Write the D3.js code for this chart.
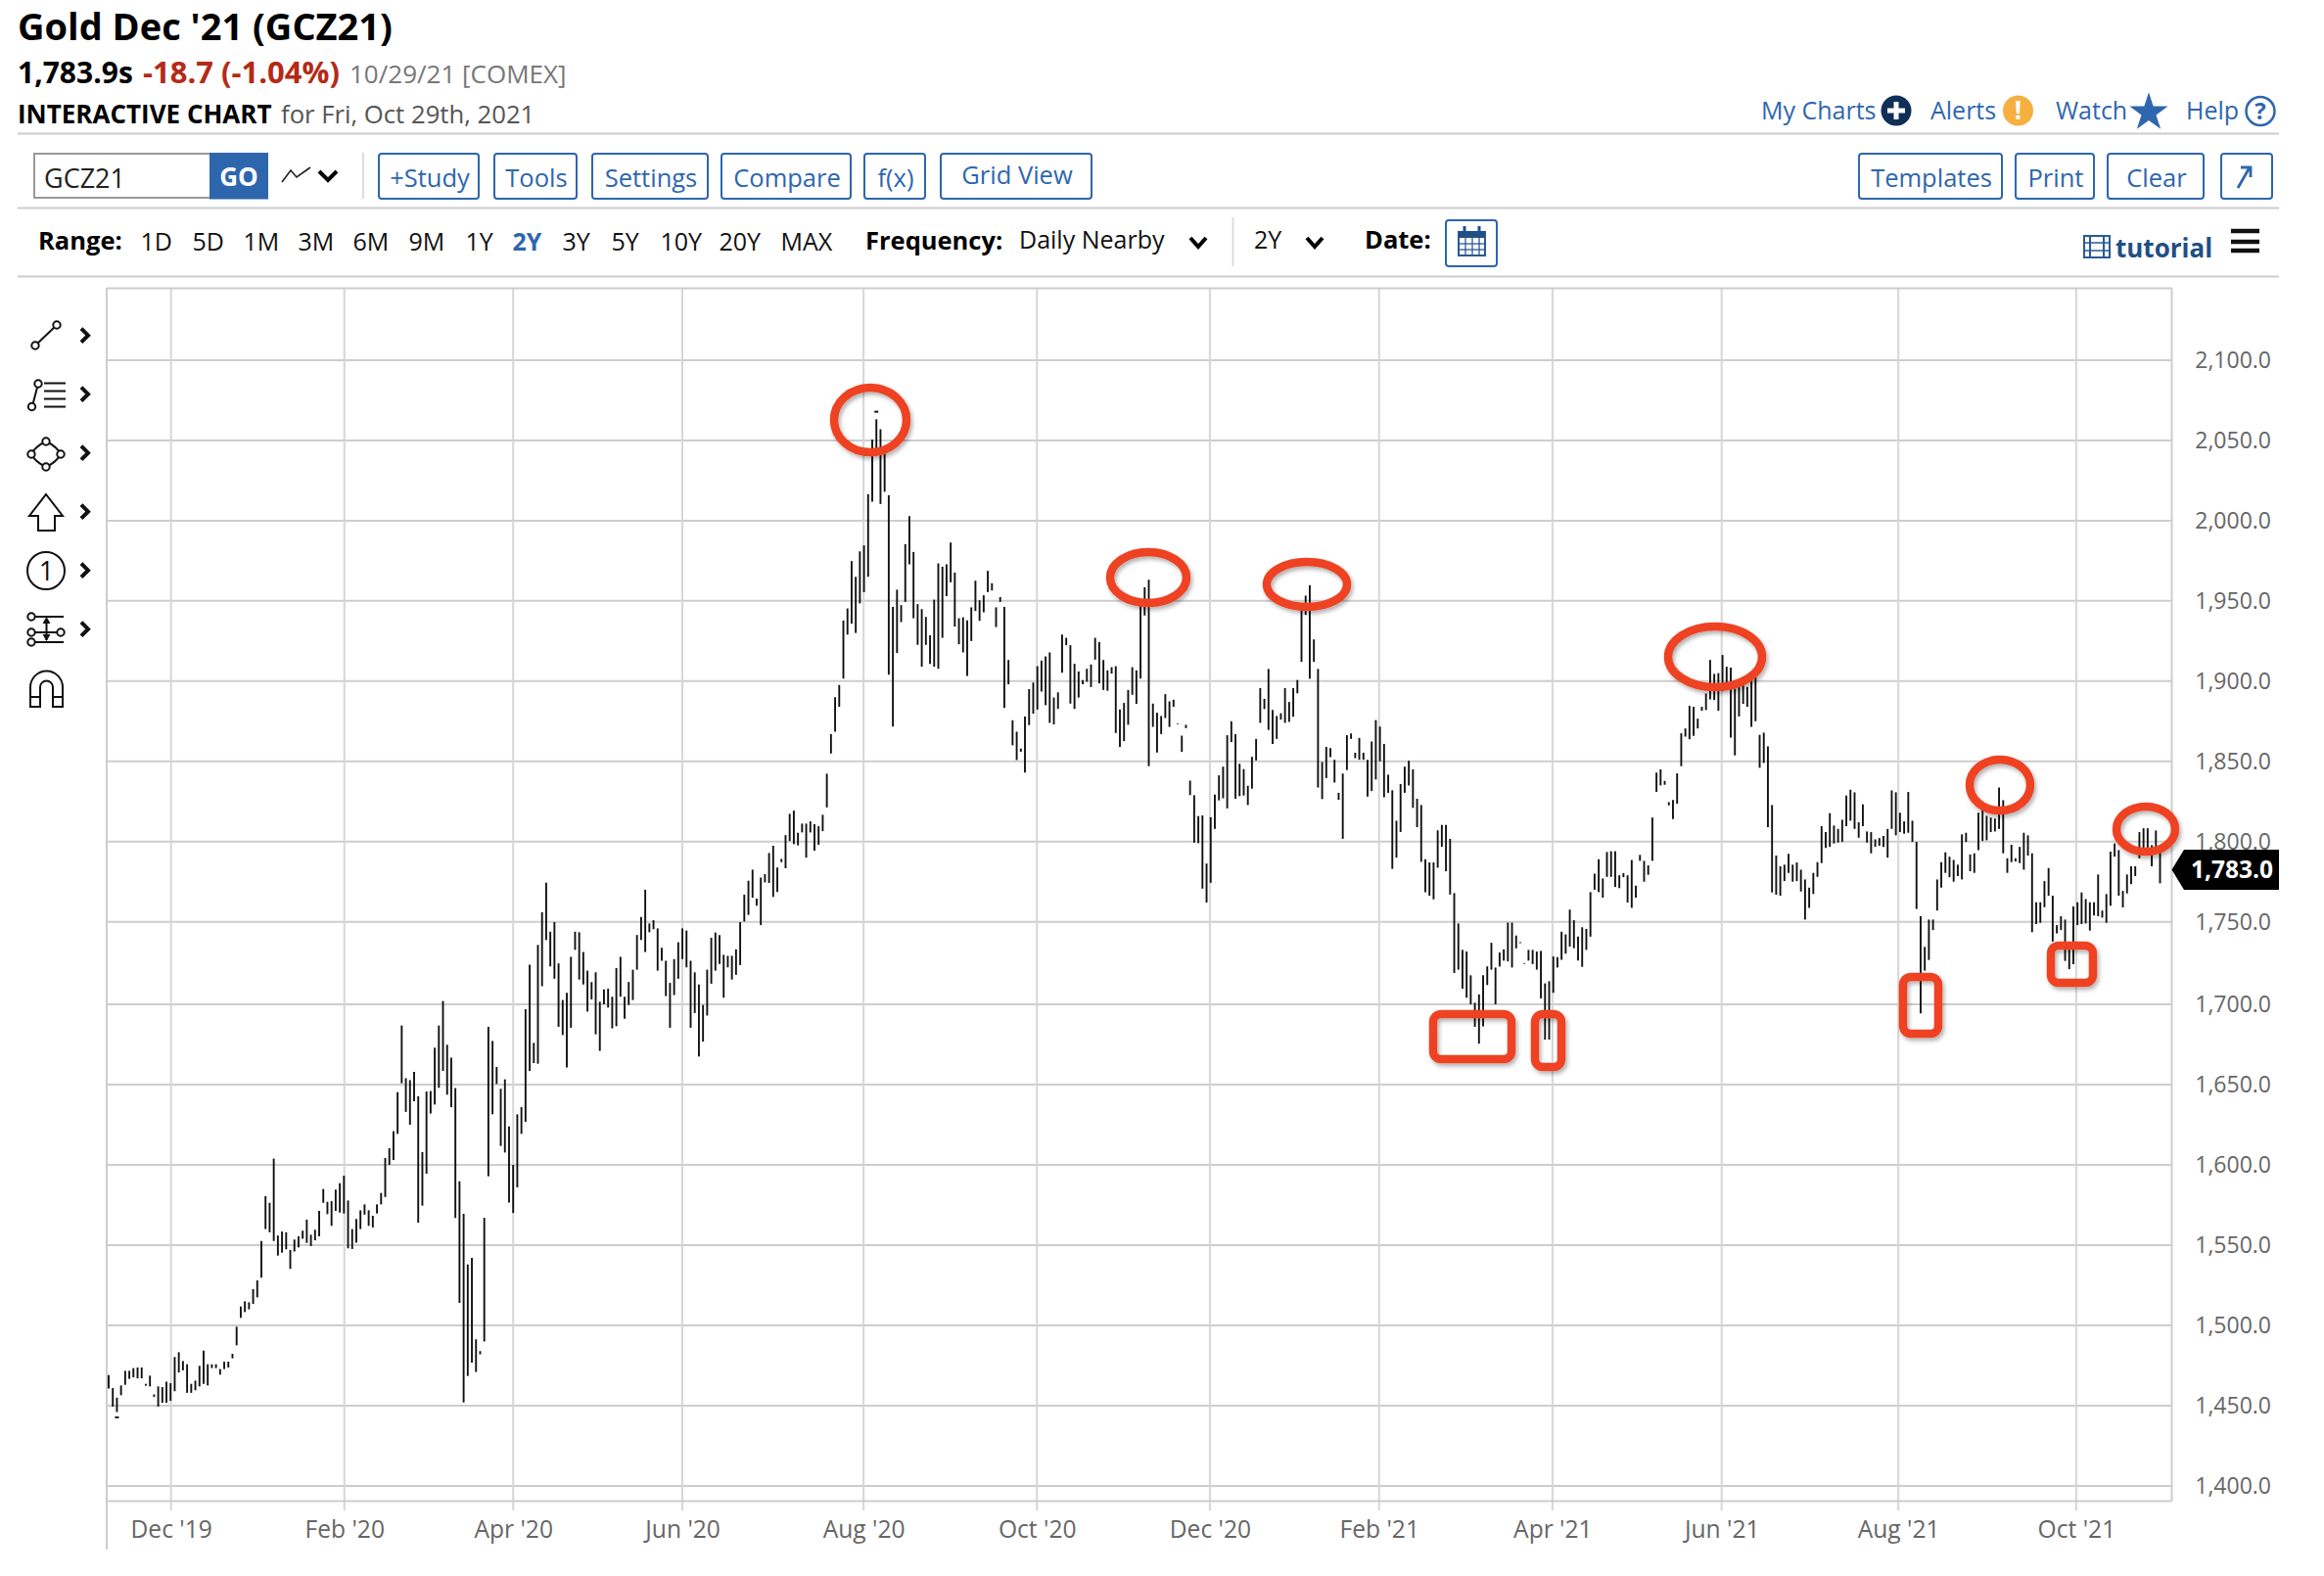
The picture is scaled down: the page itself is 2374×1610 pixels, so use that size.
<!DOCTYPE html>
<html><head><meta charset="utf-8">
<script src="https://cdnjs.cloudflare.com/ajax/libs/d3/7.8.5/d3.min.js"></script>
<style>html,body{margin:0;padding:0;background:#fff}svg{display:block}text{font-family:"Open Sans",sans-serif}</style>
</head><body><div id="c"></div>
<script>
const highsA=[1469,1461,1455,1462.6,1471.7,1471.7,1473.4,1473.8,1473.8,1463.6,1468.7,1457,1462,1461.6,1465,1464,1480.3,1483.3,1477.8,1475.8,1463.6,1465.6,1474.8,1484.3,1475.8,1475.8,1475.8,1472.8,1477.4,1477.4,1482.3,1499.2,1511.8,1515,1514.4,1522.6,1528,1552.6,1580.5,1576.4,1603.9,1556,1558.5,1558,1547,1553.5,1555.5,1559,1565.9,1556.5,1559.6,1571.3,1585,1577,1577.4,1584.6,1588.6,1593.3,1577.8,1560,1566.3,1571.7,1575.4,1571.7,1568.3,1575.4,1582.5,1604.3,1610.4,1621];
const lowsA=[1460.6,1449.4,1446,1456.5,1463,1466.7,1467.7,1467,1467,1462.4,1462,1455.5,1449.4,1451.8,1451.8,1453,1459,1470.7,1472,1458,1458,1459.6,1462,1463.6,1462.6,1473.4,1473.4,1469.3,1472.8,1473.8,1479.5,1487.6,1504.7,1508.3,1510,1513.4,1517.5,1529.7,1560,1558,1552.6,1543.5,1545.3,1547.4,1535.2,1546,1548.6,1554,1551.4,1549.4,1553,1555.5,1576.4,1569.3,1562,1571.3,1570.3,1569.7,1548,1547.6,1551.6,1560,1569,1562,1561,1569.7,1575.4,1580,1600,1603];
const highsB=[1645.3,1686.8,1654,1652.8,1658,1642.7,1608,1645.7,1646,1673,1686.8,1702,1674.8,1666.7,1647.8,1589.8,1569.5,1538,1542,1491.3,1484,1567,1686,1677.2,1661,1647.4,1653.3,1624,1600,1631.5,1636,1697,1724,1676,1736,1756,1774.4,1744,1749.8,1724.8,1702.6,1707,1728.8,1744,1743.7,1731.7,1720.4,1713.5,1719.4,1701.6,1709,1709.5,1704.6,1722,1728.8,1704.6,1713.5,1721,1742,1753,1770,1749,1751,1746,1734.3,1726.4,1713,1727.4,1737.6,1746,1744.7,1726.4,1719.4,1712,1699.6,1721,1740.3,1743.5,1742,1730,1729.4,1729.4,1733.3,1749.8,1766.9,1775.6,1782.5,1764.4,1777.6,1779.7,1792.9,1797.4,1783.8,1789.2,1804,1817.3,1819.3,1805.5,1811.2,1811.2,1812.6,1810.8,1809.6,1816.7];
const lowsB=[1619.3,1650.8,1633,1625,1639.6,1564,1574.6,1594.5,1632,1637.6,1648,1658.5,1643.7,1636,1566.9,1514,1452,1468.5,1476.8,1471,1482,1490,1592.9,1631.5,1650.4,1611.8,1607.7,1576.6,1570,1586,1619.3,1626.8,1658.5,1663.4,1663,1711,1739,1723,1715.5,1686,1680.9,1660.6,1685.4,1733,1715,1712,1695.5,1703,1681.3,1671,1700,1698,1685,1686.4,1704.6,1691,1699.6,1702.6,1721,1739,1731.7,1743.7,1745.5,1720.4,1726.4,1705,1685.4,1705.6,1715.5,1727.4,1722.4,1685.4,1694.6,1667.5,1676.8,1693,1712.5,1720.4,1724.4,1704,1722.4,1715,1717.9,1723.8,1750.2,1754.3,1765,1760,1748,1774.6,1774.2,1765.5,1768.6,1787.2,1783.4,1800.4,1798.4,1797.6,1805.7,1790,1805.7,1794.3,1798,1806.5];
const highsC=[1842.3,1867,1890,1897.6,1937.8,1945.3,1974.8,1965,1980.9,1984.6,2016.5,2050.6,2063.2,2057,2043,2015.9,1946.3,1957,1947.4,1985.4,2002.8,1980.5,1948,1944.9,1940,1928.5,1950.8,1973.4,1971.3,1972.8,1986.4,1967.7,1939.2,1939.8,1937.8,1946,1962.6,1950.4,1953.5,1968.7,1961,1946,1952.4,1946.3,1913.2,1875.6,1868.5,1858,1878,1895,1899.2,1909.3,1912.8,1915.4,1917.9,1889.8,1893,1929,1927,1922.4,1910.8,1906,1900.6,1907.7,1910.4,1927,1924.4,1913.2,1906.7,1908.7,1909.3,1882.3,1886.4,1894.5,1908.7,1906.7,1947.4,1958.5,1963.2,1886,1880.3,1878.3,1891.9,1887.4,1888.4,1873.5,1866,1872.8];
const lowsC=[1821.3,1854.9,1868.5,1884,1901.6,1929,1935.8,1930,1948.4,1955.5,1965,2011.8,2040.9,2010.4,2018,1904,1871.7,1917.5,1936.8,1949.4,1972.8,1939.2,1922.6,1909,1922.6,1910.8,1909,1907.7,1927,1953,1961.6,1934,1923,1917.9,1903.3,1925,1943.7,1937.6,1942.9,1955.5,1956.5,1933.7,1949.4,1883.3,1898,1860,1850.8,1856,1843,1872.6,1879.7,1882.3,1893.5,1885,1874,1873,1882.7,1905.3,1922.4,1886,1882.7,1889.8,1898,1899.6,1896.3,1913.4,1898.6,1894.5,1894,1904.7,1867.7,1859,1862.6,1872.8,1891.5,1885.8,1901.6,1940.9,1847,1871.5,1855.5,1867,1877,1871.5,1884,1873,1855.9,1870.7];
const highsD=[1838,1828.9,1815.9,1816.3,1786.3,1815.2,1829.3,1841.3,1846.7,1866.3,1875,1867,1848.5,1845.2,1834.8,1852.8,1864,1895.7,1889,1907.6,1882,1878.3,1880,1895.7,1887,1895.7,1900.7,1944.6,1953.3,1959.8,1926,1907.6,1849.6,1859,1858.3,1851,1830.4,1842.4,1866.3,1867.4,1855.4,1864.6,1855.4,1851,1862.4,1875.7,1871.7,1860.9,1841.7,1832,1813,1835.9,1846.7,1850.4,1845,1826.7,1822.8,1789,1787,1787,1807,1810.4,1810.4,1801.7,1767.9,1749,1733,1732,1717.6,1701,1706,1717.6,1723,1737.3,1722.3,1731.4,1733.3,1749.5,1749.5,1741.7,1737.7,1725,1733,1733,1732,1732.4,1712.7,1714,1729,1728.6,1744,1742.4,1757.6,1751,1741,1746.7,1745.7,1768.5,1780,1789,1777,1793.5,1794,1794,1779,1780.4,1779,1788.5,1772.6,1791.7,1788,1785.2,1815,1843,1845];
const lowsD=[1829,1799.3,1799,1770.7,1762,1774.3,1808,1825.7,1827,1820.7,1862,1826.7,1828.3,1828.7,1822.8,1833,1850.6,1874,1882.6,1869.6,1860.9,1864,1876,1874,1874.6,1877.8,1892.4,1912,1941.3,1901.5,1912,1833.7,1826.5,1839.6,1852.6,1836.8,1826,1801.7,1844.6,1864,1852,1851,1851,1828,1831.5,1838.7,1850,1827.6,1830.4,1783,1790,1806,1830.4,1835,1821,1809,1787.4,1768.5,1766.3,1764,1783.7,1796.7,1781.5,1767,1719,1721,1709.5,1704,1700,1686,1675.5,1686.3,1711.7,1721,1700,1722.9,1726.5,1726,1722.3,1733.9,1737,1724.5,1726.5,1724.4,1721,1703.6,1678,1678,1707,1722.3,1727,1730.7,1735,1734,1726.5,1722.7,1733,1741,1770,1768.5,1765,1778,1778,1771.7,1771,1777.8,1762,1758.7,1765,1788,1775,1779.3,1788,1831,1835];
const highsE=[1837.8,1824.6,1826,1842.5,1867.5,1870.5,1884.6,1884,1876.6,1884,1892.3,1913.2,1904.5,1905,1916.3,1909,1908.5,1895.3,1896.7,1898.4,1896.3,1900.4,1902.4,1866.5,1867.9,1859.3,1822.8,1791.3,1784.6,1785.6,1792.3,1785.6,1787,1782.5,1776.4,1771.3,1780.5,1787.2,1809.6,1805.9,1817.7,1810,1807.9,1813.6,1828.7,1832.3,1830.7,1812,1823.2,1806.3,1805.9,1801.4,1802.2,1803.5,1807.9,1831.9,1830.7,1818,1812.6,1830.9,1813,1799.8,1753.5,1734.8,1751.4,1751.4,1776.4,1787.2,1793.3,1790.6,1788.6,1785.6,1804.5,1805.5,1792,1792.7,1818,1819.7,1816,1815,1814.4,1833.7,1825.8,1789.6,1798,1789.6,1796.7,1805.5,1803.9,1792.7,1762.2,1762.2,1775.4,1783.5,1766.3,1748,1753.5,1751.4,1738,1759.6,1762.2,1768.3,1764.2,1762.2,1762.2,1779.5,1757,1767.3,1793.7,1798.8,1794.7,1769.3,1779.5,1784.6,1784.6,1805.9,1808.3,1808.3,1797.8,1806.9,1793.7];
const lowsE=[1835.4,1822.6,1814,1823.6,1847,1865.4,1863.8,1865.9,1870.5,1881.5,1882,1888.6,1888.2,1881.5,1893.7,1894.3,1864.8,1853.7,1878,1885.8,1884,1871.5,1875,1846,1849,1809,1768.3,1766.9,1766.3,1775.4,1780.5,1775,1775.4,1768.9,1751.4,1758.7,1767.3,1778,1786.6,1796,1796.7,1798.8,1799.4,1799.8,1809.6,1813,1807.9,1802.4,1809.6,1799.4,1792.7,1796.7,1797.4,1796.7,1790,1807.9,1803.9,1805.9,1804.9,1805.5,1799.8,1758,1694.3,1720.4,1726.9,1745,1757,1771.3,1780.5,1777.8,1775,1778.5,1776.4,1799.8,1781.5,1780.5,1794.7,1800.4,1800.8,1805.9,1806.3,1807.9,1792.7,1780.5,1787.2,1787.6,1786.6,1782.5,1791.3,1743.7,1748.6,1749.4,1759.1,1766.3,1738,1743,1745,1726.3,1721.3,1724.3,1748,1748.6,1749,1744.7,1754,1753.5,1752.6,1749.4,1760,1790.6,1766.3,1759,1767.7,1773.4,1778.5,1789.6,1791.7,1791.7,1784.6,1792.7,1774];
const highs=[...highsA,...highsB,...highsC,...highsD,...highsE];
const lows=[...lowsA,...lowsB,...lowsC,...lowsD,...lowsE];
// two isolated prints, [session index, price]
const strayIndex=[2,186];
const strayPrice=[1442.7,2067.9];
const priceTicks=[1400,1450,1500,1550,1600,1650,1700,1750,1800,1850,1900,1950,2000,2050,2100];
const dateLabels=["Dec '19","Feb '20","Apr '20","Jun '20","Aug '20","Oct '20","Dec '20","Feb '21","Apr '21","Jun '21","Aug '21","Oct '21"];
const dateIndex=[15.1,57.1,98,139,182.9,224.9,266.8,307.8,349.8,390.8,433.6,476.7];
const rangeLabels=["1D","5D","1M","3M","6M","9M","1Y","2Y","3Y","5Y","10Y","20Y","MAX"];
const rangeX=[144,197,249,305,361,418,476,524,575,625,675,735,798];
const lastPrice=1783.0;

const W=2374,H=1610,BLUE="#2e66ae",GRID="#cdcdcd",RED="#ee4324";
const svg=d3.select("#c").append("svg").attr("width",W).attr("height",H).attr("viewBox",`0 0 ${W} ${H}`);
const defs=svg.append("defs");
const f=defs.append("filter").attr("id","sh").attr("x","-20%").attr("y","-20%").attr("width","140%").attr("height","140%");
f.append("feDropShadow").attr("dx",2).attr("dy",3).attr("stdDeviation",2).attr("flood-color","#000").attr("flood-opacity",.3);

function T(x,y,s,o={}){const e=svg.append("text").attr("x",x).attr("y",y).text(s)
 .attr("font-size",o.size||26).attr("fill",o.fill||"#000").attr("font-weight",o.w||400);
 if(o.a)e.attr("text-anchor",o.a);return e;}
function L(x1,y1,x2,y2,c,w){return svg.append("line").attr("x1",x1).attr("y1",y1).attr("x2",x2).attr("y2",y2).attr("stroke",c).attr("stroke-width",w);}

// header
T(18,41,"Gold Dec '21 (GCZ21)",{size:38,w:700});
T(18,85,"1,783.9s",{size:30,w:700});
T(146,85,"-18.7 (-1.04%)",{size:31,w:700,fill:"#b42a16"});
T(357,85,"10/29/21 [COMEX]",{size:26,fill:"#777"});
T(18,126,"INTERACTIVE CHART",{size:26,w:700});
T(287,126,"for Fri, Oct 29th, 2021",{size:25.7,fill:"#555"});
L(18,136.5,2328,136.5,"#ccc",2);L(18,212.5,2328,212.5,"#ccc",2);L(18,282.5,2328,282.5,"#ccc",2);

// top links
T(1799,122,"My Charts",{fill:BLUE,size:25});
svg.append("circle").attr("cx",1937).attr("cy",113).attr("r",15.5).attr("fill","#0f2f56");
L(1937,104,1937,122,"#fff",5);L(1928,113,1946,113,"#fff",5);
T(1972,122,"Alerts",{fill:BLUE,size:25});
svg.append("circle").attr("cx",2061.5).attr("cy",113).attr("r",15.5).attr("fill","#f5b041");
T(2061.5,122,"!",{fill:"#fff",size:26,w:700,a:"middle"});
T(2100,122,"Watch",{fill:BLUE,size:25});
svg.append("path").attr("transform","translate(2195,115)").attr("d",d3.symbol(d3.symbolStar,480)()).attr("fill",BLUE);
T(2233,122,"Help",{fill:BLUE,size:25});
svg.append("circle").attr("cx",2309).attr("cy",113.5).attr("r",14.5).attr("fill","#fff").attr("stroke",BLUE).attr("stroke-width",2.5);
T(2309,122,"?",{fill:BLUE,size:24,w:700,a:"middle"});

// toolbar
svg.append("rect").attr("x",35).attr("y",157).attr("width",180).attr("height",45).attr("fill","#fff").attr("stroke","#999").attr("stroke-width",2);
T(45,192,"GCZ21",{size:27,fill:"#222"});
svg.append("rect").attr("x",214).attr("y",156).attr("width",60).attr("height",47.5).attr("fill",BLUE);
T(244,190,"GO",{size:26,w:700,fill:"#fff",a:"middle"});
svg.append("path").attr("d","M288,186 L297,174 L303,181 L317,171").attr("fill","none").attr("stroke","#222").attr("stroke-width",1.6);
svg.append("path").attr("d","M326,175 L335,184 L344,175").attr("fill","none").attr("stroke","#000").attr("stroke-width",4);
L(371,156,371,203,"#ddd",2);
const btns=[["+Study",387,489],["Tools",505,589],["Settings",605,723],["Compare",737,869],["f(x)",883,945],["Grid View",961,1115],["Templates",1899,2045],["Print",2059,2139],["Clear",2153,2251]];
btns.forEach(b=>{svg.append("rect").attr("x",b[1]).attr("y",157).attr("width",b[2]-b[1]).attr("height",46).attr("rx",3).attr("fill","#fff").attr("stroke",BLUE).attr("stroke-width",2);
 T((b[1]+b[2])/2+1,b[0]==="Grid View"?188:191,b[0],{fill:BLUE,size:25.5,a:"middle"});});
svg.append("rect").attr("x",2269).attr("y",157).attr("width",52).attr("height",46).attr("rx",3).attr("fill","#fff").attr("stroke",BLUE).attr("stroke-width",2);
svg.append("path").attr("d","M2286,192 L2298,171 M2289,171 L2299,171 L2299,181").attr("fill","none").attr("stroke",BLUE).attr("stroke-width",2.8);

// range row
T(39,255,"Range:",{w:700,size:25.5});
rangeLabels.forEach((r,i)=>T(rangeX[i]-.5,256,r,{size:25,fill:r==="2Y"?BLUE:"#111",w:r==="2Y"?700:400}));
T(884,255,"Frequency:",{w:700,size:25.5});
T(1041,254,"Daily Nearby",{size:25,fill:"#111"});
const chev=x=>svg.append("path").attr("d",`M${x-8},243 L${x},252 L${x+8},243`).attr("fill","none").attr("stroke","#000").attr("stroke-width",4);
chev(1224);L(1259.5,222,1259.5,272,"#ddd",2);
T(1281,254,"2Y",{size:25,fill:"#111"});chev(1343);
T(1394,254,"Date:",{w:700,size:25.5});
svg.append("rect").attr("x",1477).attr("y",225).attr("width",52).attr("height",47).attr("rx",3).attr("fill","#fff").attr("stroke",BLUE).attr("stroke-width",2);
svg.append("rect").attr("x",1490).attr("y",237).attr("width",27).attr("height",24).attr("fill","#fff").attr("stroke","#2a5a93").attr("stroke-width",2);
svg.append("rect").attr("x",1490).attr("y",236).attr("width",27).attr("height",7).attr("fill","#1f4f86");
[1497,1504,1511].forEach(x=>L(x,243,x,261,"#2a5a93",1.3));[249,255].forEach(y=>L(1490,y,1517,y,"#2a5a93",1.3));
[1496,1511].forEach(x=>L(x,231,x,238,"#1f4f86",3));
svg.append("rect").attr("x",2129).attr("y",241).attr("width",26).attr("height",22).attr("fill","none").attr("stroke","#2a5a93").attr("stroke-width",2);
[2135,2149].forEach(x=>L(x,241,x,263,"#2a5a93",2));[248,256].forEach(y=>L(2129,y,2155,y,"#2a5a93",1.5));
T(2161,263,"tutorial",{size:26,w:700,fill:"#1f4f86"});
[236,247,256].forEach(y=>L(2279,y,2308,y,"#111",4.5));

// chart scales
const x=d3.scaleLinear().domain([0,highs.length-1]).range([111,2206.5]);
const y=d3.scaleLinear().domain([1400,1700,1750,2100]).range([1518,1026,941.7,368]);

// grid + axes
const gx=svg.append("g").attr("transform","translate(0,1533.5)")
 .call(d3.axisBottom(x).tickValues(dateIndex).tickFormat((d,i)=>dateLabels[i]).tickSize(0).tickPadding(20));
gx.select(".domain").remove();
gx.selectAll("text").attr("font-size",24.6).attr("fill","#666").attr("font-family",'"Open Sans",sans-serif');
const gy=svg.append("g").attr("transform","translate(2320,0)")
 .call(d3.axisLeft(y).tickValues(priceTicks).tickFormat(d=>d3.format(",.1f")(d)).tickSize(0).tickPadding(0));
gy.select(".domain").remove();
gy.selectAll("text").attr("font-size",23).attr("fill","#666").attr("font-family",'"Open Sans",sans-serif');

priceTicks.forEach(p=>L(109,y(p),2218.5,y(p),GRID,2));
dateIndex.forEach(d=>L(x(d),295,x(d),1543,"#d6d6d6",2));
L(109,294.5,2218.5,294.5,GRID,2);
L(109,1533.5,2218.5,1533.5,GRID,2);
L(109,294,109,1583,GRID,2);
L(2218.5,294,2218.5,1533.5,GRID,2);

// OHLC bars
svg.append("g").attr("stroke","#111").attr("stroke-width",1.9)
 .selectAll("line").data(d3.range(highs.length)).join("line")
 .attr("x1",d=>x(d)).attr("x2",d=>x(d)).attr("y1",d=>y(highs[d])).attr("y2",d=>y(lows[d]));
svg.append("g").attr("stroke","#111").attr("stroke-width",2)
 .selectAll("line").data(strayIndex).join("line")
 .attr("x1",d=>x(d)-2).attr("x2",d=>x(d)+2).attr("y1",(d,i)=>y(strayPrice[i])).attr("y2",(d,i)=>y(strayPrice[i]));

// last price tag
svg.append("path").attr("d",`M2218.5,${y(lastPrice)+1} L2231,868 L2328,868 L2328,909 L2231,909 Z`).attr("fill","#000");
T(2280,897,d3.format(",.1f")(lastPrice),{size:24.5,w:700,fill:"#fff",a:"middle"});

// hand-drawn annotations
const ann=svg.append("g").attr("fill","none").attr("stroke",RED).attr("stroke-width",8.5).attr("filter","url(#sh)");
[[889,429,37,33],[1173,590,39,26],[1335,597,41,23],[1752,671,48,31],[2043,802,31,26],[2192,847,30,23]]
 .forEach(e=>ann.append("ellipse").attr("cx",e[0]).attr("cy",e[1]).attr("rx",e[2]).attr("ry",e[3]));
[[1464,1036,80,46],[1568,1036,27,54],[1944,998,36,58],[2095,966,43,38]]
 .forEach(r=>ann.append("rect").attr("x",r[0]).attr("y",r[1]).attr("width",r[2]).attr("height",r[3]).attr("rx",8));

// drawing tools
const tool=svg.append("g").attr("fill","#fff").attr("stroke","#111").attr("stroke-width",2);
const C=(cx,cy,r=3.7)=>tool.append("circle").attr("cx",cx).attr("cy",cy).attr("r",r);
const P=d=>tool.append("path").attr("d",d).attr("fill","none");
P("M36,353 L58,332");C(36,353);C(58,332);
P("M33,415 L39,392 M45,391.5 H67 M45,399.5 H67 M45,407.5 H67 M45,415.5 H67");C(39,392);C(32.5,415.5);
P("M47,451 Q36,456 32,464 Q36,472 47,477 Q58,472 62,464 Q58,456 47,451");C(47,451);C(47,477);C(32,464);C(62,464);
P("M47,505 L64,527 L56,527 L56,542 L39,542 L39,527 L30,527 Z");
tool.append("circle").attr("cx",47).attr("cy",583).attr("r",19);
svg.append("text").attr("x",47.5).attr("y",593).attr("text-anchor","middle").attr("font-size",27).attr("fill","#111").text("1");
P("M32,630 H65 M32,646 H62 M32,656 H65 M47.5,632 V654");C(32,630);C(32,646);C(62,646);C(32,656);
svg.append("path").attr("d","M47.5,630 l4,7 h-8 Z M47.5,655 l4,-7 h-8 Z").attr("fill","#111");
P("M31,722 V702 A16.5,16.5 0 0 1 64,702 V722 H54 V702 A6.5,6.5 0 0 0 41,702 V722 Z M31,712 H41 M54,712 H64");
[342.7,402.7,462.7,522.7,582.7,642.7].forEach(c=>svg.append("path").attr("d",`M83,${c-7} L90,${c} L83,${c+7}`).attr("fill","none").attr("stroke","#111").attr("stroke-width",4));
</script></body></html>
